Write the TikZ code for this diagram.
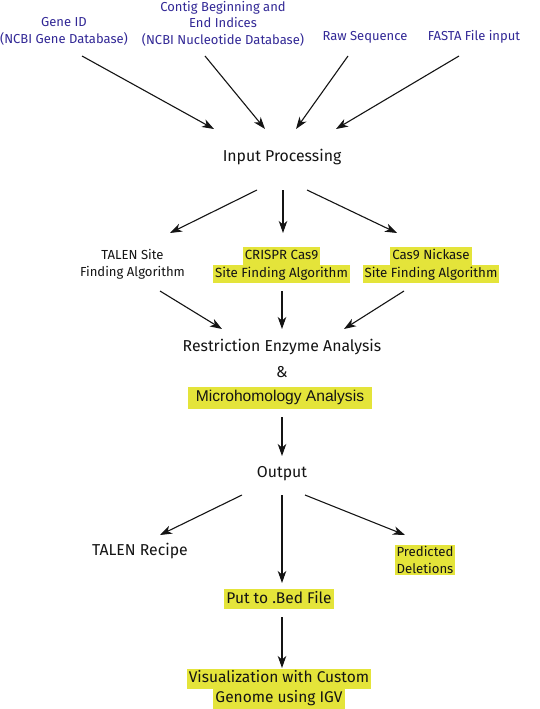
\documentclass[tikz,border=0pt]{standalone}
\usepackage{fontspec}
\setmainfont{Fira Sans}
\newfontfamily\arialf{Liberation Sans}
\usetikzlibrary{arrows.meta}
\definecolor{hl}{RGB}{228,228,58}
\definecolor{blu}{RGB}{50,40,150}
\definecolor{ink}{RGB}{20,20,20}
\begin{document}
\begin{tikzpicture}[x=1pt,y=-1pt,
  arr/.style={line width=1.1pt, draw=ink, -{Stealth[length=12pt,width=8.5pt,inset=3.5pt]}},
  lab/.style={font=\fontsize{13.1}{17}\selectfont, align=center, inner sep=0pt, text=ink},
  toplab/.style={font=\fontsize{13}{16.5}\selectfont, align=center, inner sep=0pt, text=blu},
  big/.style={font=\fontsize{15.8}{18}\selectfont, inner sep=0pt, text=ink},
  hlline/.style={fill=hl, font=\fontsize{13.3}{15}\selectfont, text=ink, inner xsep=2pt, inner ysep=0pt,
     text height=12.5pt, text depth=5.5pt},
  hlbig/.style={fill=hl, font=\fontsize{15.5}{18}\selectfont, text=ink, inner xsep=2pt, inner ysep=0pt,
     text height=14pt, text depth=6pt}]
\useasboundingbox[fill=white] (0,0) rectangle (540,709);

% top inputs
\node[toplab] (g1) at (64,31.5) {Gene ID\\(NCBI Gene Database)};
\node[toplab] (g2) at (223,23.5) {Contig Beginning and\\End Indices\\(NCBI Nucleotide Database)};
\node[toplab] (g3) at (365,37) {Raw Sequence};
\node[toplab] (g4) at (474,37) {FASTA File input};

\node[big] (ip) at (282,157) {Input Processing};

\coordinate (s1) at (82,56);   \coordinate (e1) at (214,129);
\coordinate (s2) at (205,56);  \coordinate (e2) at (265,129);
\coordinate (s3) at (348,56);  \coordinate (e3) at (296,129);
\coordinate (s4) at (459,56);  \coordinate (e4) at (336,129);
\draw[arr] (s1) -- (e1);
\draw[arr] (s2) -- (e2);
\draw[arr] (s3) -- (e3);
\draw[arr] (s4) -- (e4);

% algorithms
\node[lab] (talen) at (132.5,264) {TALEN Site\\Finding Algorithm};
\node[hlline] (cr1) at (281.5,256) {CRISPR Cas9};
\node[hlline, anchor=north] (cr2) at (cr1.south) {Site Finding Algorithm};
\node[hlline] (ni1) at (431,256) {Cas9 Nickase};
\node[hlline, anchor=north] (ni2) at (ni1.south) {Site Finding Algorithm};

\coordinate (a1) at (257,190); \coordinate (b1) at (170,233);
\coordinate (a2) at (283,190); \coordinate (b2) at (283,233);
\coordinate (a3) at (307,190); \coordinate (b3) at (397,233);
\draw[arr] (a1) -- (b1);
\draw[arr] (a2) -- (b2);
\draw[arr] (a3) -- (b3);

% restriction
\node[big] (re) at (282,347) {Restriction Enzyme Analysis};
\node[big] (amp) at (282,372) {\&};
\node[fill=hl, font=\arialf\fontsize{15.6}{18}\selectfont, text=ink, inner xsep=8pt, inner ysep=0pt,
     text height=14.5pt, text depth=7pt] (mh) at (280,398) {Microhomology Analysis};

\coordinate (c1) at (160,291); \coordinate (d1) at (222,329);
\coordinate (c2) at (282,291); \coordinate (d2) at (282,329);
\coordinate (c3) at (404,291); \coordinate (d3) at (344,329);
\draw[arr] (c1) -- (d1);
\draw[arr] (c2) -- (d2);
\draw[arr] (c3) -- (d3);

% output
\node[big] (out) at (282,474) {Output};
\coordinate (o1) at (282,417); \coordinate (o2) at (282,456);
\draw[arr] (o1) -- (o2);

\node[big] (tr) at (140,551) {TALEN Recipe};
\node[fill=hl, font=\fontsize{13.2}{17}\selectfont, align=center, text=ink, inner xsep=2pt, inner ysep=1.5pt] (pd) at (425,560) {Predicted\\Deletions};
\node[hlbig] (bed) at (279,599) {Put to .Bed File};
\node[hlbig] (vi1) at (279,678.5) {Visualization with Custom};
\node[hlbig, anchor=north] (vi2) at (vi1.south) {Genome using IGV};

\coordinate (p1) at (242,495); \coordinate (q1) at (160,535);
\coordinate (p2) at (282,495); \coordinate (q2) at (282,583);
\coordinate (p3) at (305,495); \coordinate (q3) at (405,535);
\draw[arr] (p1) -- (q1);
\draw[arr] (p2) -- (q2);
\draw[arr] (p3) -- (q3);

\coordinate (r1) at (282,617); \coordinate (r2) at (282,668);
\draw[arr] (r1) -- (r2);
\end{tikzpicture}
\end{document}
